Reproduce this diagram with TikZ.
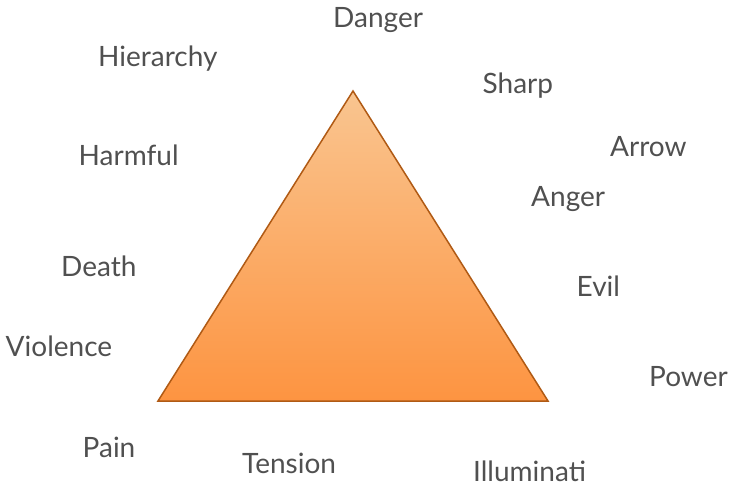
\documentclass[tikz,border=0pt]{standalone}
\usepackage{fontspec}
\setmainfont{Lato}
\definecolor{txt}{HTML}{505050}
\definecolor{tritop}{HTML}{F9C590}
\definecolor{tribot}{HTML}{FD9441}
\definecolor{triedge}{HTML}{B05A14}
\begin{document}
\begin{tikzpicture}[x=1pt,y=-1pt,
  word/.style={anchor=base west,inner sep=0pt,text=txt,font=\fontsize{28}{32}\selectfont}]
\useasboundingbox (0,0) rectangle (731,492);
\coordinate (apex) at (353,91);
\coordinate (bl) at (158,401);
\coordinate (br) at (548,401);
\draw[triedge,line width=1.5pt,line join=miter,top color=tritop,bottom color=tribot] (apex) -- (br) -- (bl) -- cycle;
\node[word] (danger) at (333,27.3) {Danger};
\node[word] (hier) at (98,66.7) {Hierarchy};
\node[word] (sharp) at (482.5,94) {Sharp};
\node[word] (harm) at (78.5,165) {Harmful};
\node[word] (arrow) at (610,156.7) {Arrow};
\node[word] (anger) at (531,206.7) {Anger};
\node[word] (death) at (61,276.7) {Death};
\node[word] (evil) at (576.5,296.7) {Evil};
\node[word] (viol) at (5.5,356.7) {Violence};
\node[word] (power) at (649,386.7) {Power};
\node[word] (pain) at (82.5,457.3) {Pain};
\node[word] (tension) at (242,473.3) {Tension};
\node[word] (illum) at (473,481.7) {Illuminati};
\end{tikzpicture}
\end{document}
